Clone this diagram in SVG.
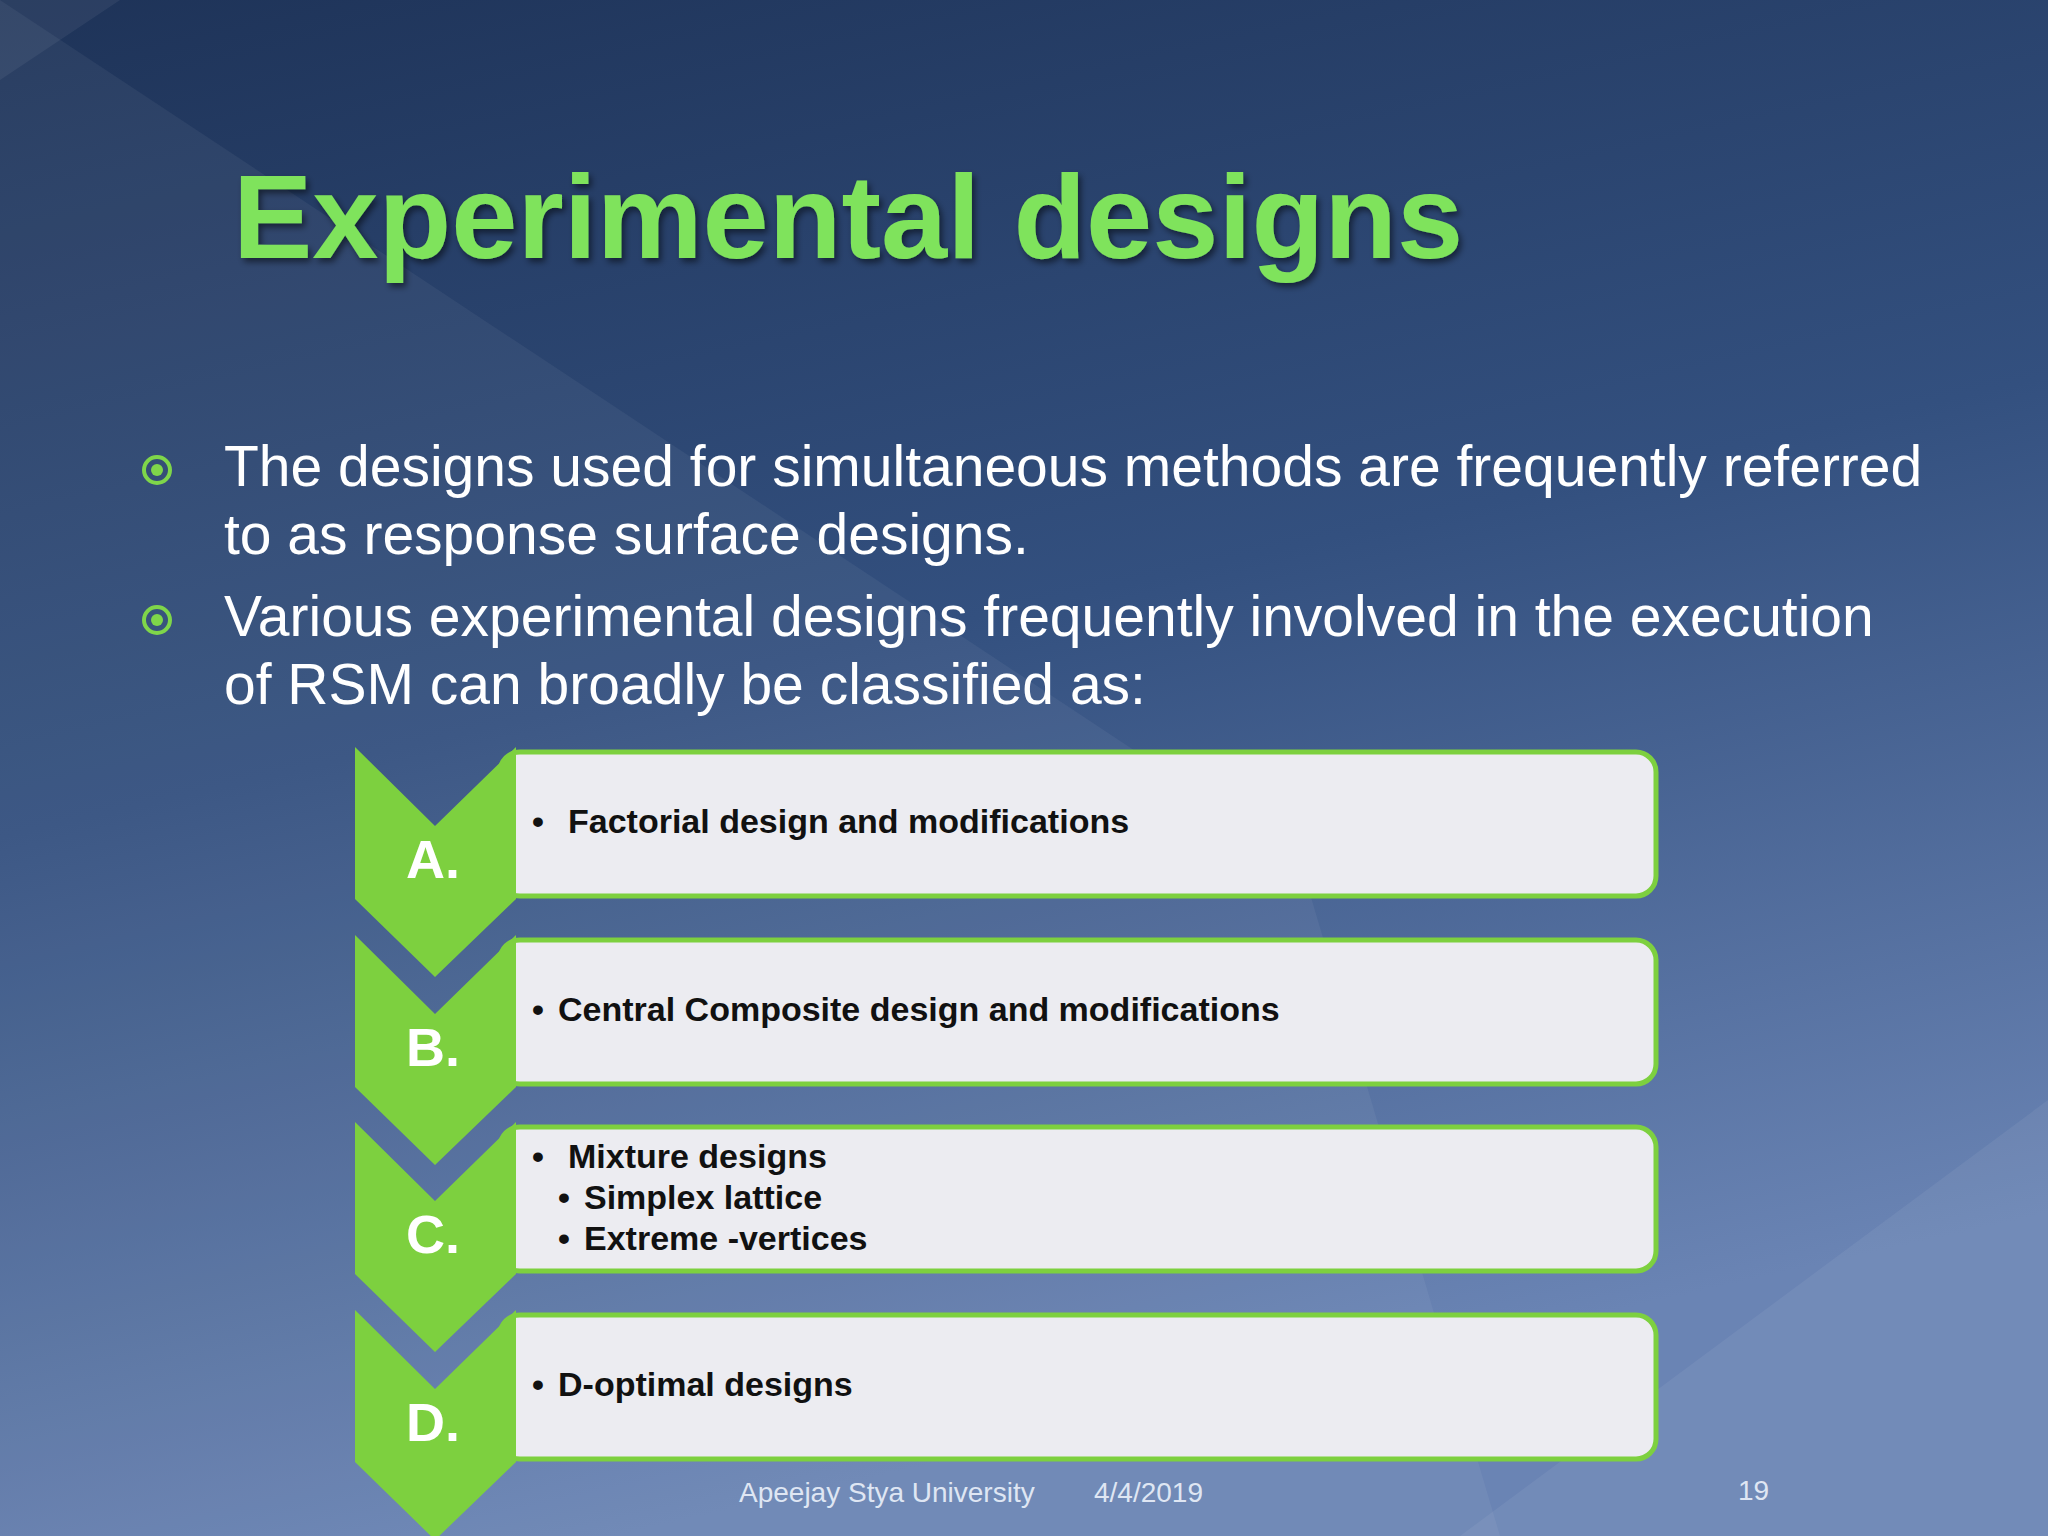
<svg xmlns="http://www.w3.org/2000/svg" width="2048" height="1536" viewBox="0 0 2048 1536">
<defs>
<linearGradient id="bg" x1="0" y1="0" x2="0.3" y2="1">
<stop offset="0" stop-color="#1e3358"/><stop offset="0.5" stop-color="#33507f"/><stop offset="1" stop-color="#6a84b4"/>
</linearGradient>
<filter id="sh" x="-5%" y="-5%" width="110%" height="120%"><feDropShadow dx="3" dy="4" stdDeviation="3" flood-color="#000" flood-opacity="0.5"/></filter>
<style>
.box{fill:#ececf1;stroke:#7dd03f;stroke-width:5}
.chev{fill:#7dd03f}
.let{font:bold 54px "Liberation Sans",Arial,sans-serif;fill:#fff}
.it{font:bold 34px "Liberation Sans",Arial,sans-serif;fill:#111}
.body{font:57px "Liberation Sans",Arial,sans-serif;fill:#fff}
.ft{font:28px "Liberation Sans",Arial,sans-serif;fill:#dfe6f3}
</style>
</defs>
<rect width="2048" height="1536" fill="url(#bg)"/>
<polygon points="0,0 1300,860 1500,1536 0,1536" fill="#fff" opacity="0.05"/>
<polygon points="0,0 120,0 0,80" fill="#fff" opacity="0.06"/>
<polygon points="1460,1536 2048,1100 2048,1536" fill="#fff" opacity="0.06"/>
<text x="233" y="258" font-family="Liberation Sans,Arial,sans-serif" font-weight="bold" font-size="119" fill="#7fe35c" filter="url(#sh)">Experimental designs</text>
<g id="bullets">
<circle cx="157" cy="470" r="13" fill="none" stroke="#7fd64a" stroke-width="4"/><circle cx="157" cy="470" r="6" fill="#7fd64a"/>
<circle cx="157" cy="620" r="13" fill="none" stroke="#7fd64a" stroke-width="4"/><circle cx="157" cy="620" r="6" fill="#7fd64a"/>
<text class="body" x="224" y="486">The designs used for simultaneous methods are frequently referred</text>
<text class="body" x="224" y="554">to as response surface designs.</text>
<text class="body" x="224" y="636">Various experimental designs frequently involved in the execution</text>
<text class="body" x="224" y="704">of RSM can broadly be classified as:</text>
</g>
<g id="A">
<rect class="box" x="500" y="752" width="1156" height="144" rx="20"/>
<polygon class="chev" points="355,747 435,826 516,747 516,899 435,977 355,899"/>
<text class="let" x="406" y="878">A.</text>
<text class="it" x="532" y="833">•</text><text class="it" x="568" y="833">Factorial design and modifications</text>
</g>
<g id="B">
<rect class="box" x="500" y="940" width="1156" height="144" rx="20"/>
<polygon class="chev" points="355,935 435,1014 516,935 516,1087 435,1165 355,1087"/>
<text class="let" x="406" y="1066">B.</text>
<text class="it" x="532" y="1021">•</text><text class="it" x="558" y="1021">Central Composite design and modifications</text>
</g>
<g id="C">
<rect class="box" x="500" y="1127" width="1156" height="144" rx="20"/>
<polygon class="chev" points="355,1122 435,1201 516,1122 516,1274 435,1352 355,1274"/>
<text class="let" x="406" y="1253">C.</text>
<text class="it" x="532" y="1168">•</text><text class="it" x="568" y="1168">Mixture designs</text>
<text class="it" x="558" y="1209">•</text><text class="it" x="584" y="1209">Simplex lattice</text>
<text class="it" x="558" y="1250">•</text><text class="it" x="584" y="1250">Extreme -vertices</text>
</g>
<g id="D">
<rect class="box" x="500" y="1315" width="1156" height="144" rx="20"/>
<polygon class="chev" points="355,1310 435,1389 516,1310 516,1462 435,1540 355,1462"/>
<text class="let" x="406" y="1441">D.</text>
<text class="it" x="532" y="1396">•</text><text class="it" x="558" y="1396">D-optimal designs</text>
</g>
<g id="connectors"/>
<text class="ft" x="739" y="1502">Apeejay Stya University</text>
<text class="ft" x="1094" y="1502">4/4/2019</text>
<text class="ft" x="1738" y="1500" font-size="34">19</text>
</svg>
